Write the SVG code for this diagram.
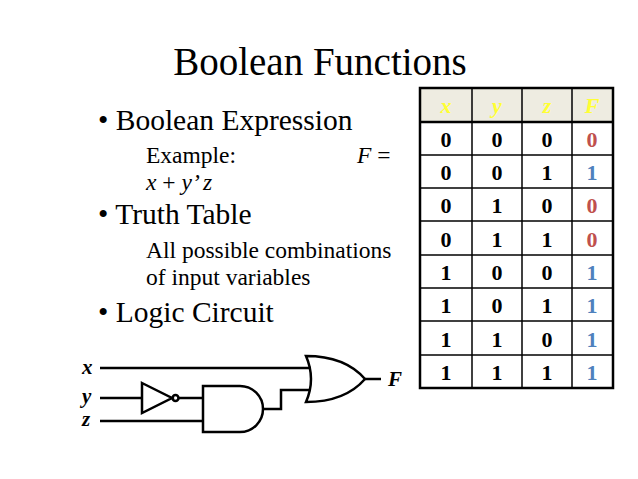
<svg xmlns="http://www.w3.org/2000/svg" width="638" height="479" viewBox="0 0 638 479">
<style>
.t{font-family:"Liberation Serif",serif;fill:#000}
.w{fill:none;stroke:#000;stroke-width:2.5}
.c{font-family:"Liberation Serif",serif;font-weight:bold;font-size:22px;text-anchor:middle}
.g{stroke:#000;stroke-width:1.5}
</style>
<rect width="638" height="479" fill="#fff"/>
<text class="t" x="320" y="75" font-size="39" text-anchor="middle">Boolean Functions</text>
<g id="text" class="t">
<text x="98" y="130" font-size="29.5">• Boolean Expression</text>
<text x="146" y="163" font-size="23.5">Example:</text>
<text x="357" y="163" font-size="23.5"><tspan font-style="italic">F</tspan> =</text>
<text x="146" y="190" font-size="23.5" font-style="italic">x <tspan font-style="normal">+</tspan> y’ z</text>
<text x="98" y="224" font-size="29.5">• Truth Table</text>
<text x="146" y="258" font-size="23.5">All possible combinations</text>
<text x="146" y="285" font-size="23.5">of input variables</text>
<text x="98" y="322" font-size="29.5">• Logic Circuit</text>
</g>
<g id="table">
<rect x="420" y="88" width="193" height="34" fill="#eeece1"/>
<g class="g">
<rect x="420" y="88" width="193" height="300" fill="none" stroke-width="2.5"/>
<line x1="472" y1="88" x2="472" y2="388"/><line x1="522" y1="88" x2="522" y2="388"/><line x1="572" y1="88" x2="572" y2="388"/>
<line x1="420" y1="122" x2="613" y2="122" stroke-width="2.5"/>
<line x1="420" y1="155" x2="613" y2="155"/><line x1="420" y1="188" x2="613" y2="188"/><line x1="420" y1="221" x2="613" y2="221"/><line x1="420" y1="255" x2="613" y2="255"/><line x1="420" y1="288" x2="613" y2="288"/><line x1="420" y1="321" x2="613" y2="321"/><line x1="420" y1="355" x2="613" y2="355"/>
</g>
<g class="c" font-style="italic" fill="#ffff33">
<text x="446" y="113">x</text><text x="497" y="113">y</text><text x="547" y="113">z</text><text x="592" y="113">F</text>
</g>
<g class="c">
<text x="446" y="147">0</text><text x="497" y="147">0</text><text x="547" y="147">0</text><text x="592" y="147" fill="#c0504d">0</text>
<text x="446" y="180">0</text><text x="497" y="180">0</text><text x="547" y="180">1</text><text x="592" y="180" fill="#4f81bd">1</text>
<text x="446" y="213">0</text><text x="497" y="213">1</text><text x="547" y="213">0</text><text x="592" y="213" fill="#c0504d">0</text>
<text x="446" y="247">0</text><text x="497" y="247">1</text><text x="547" y="247">1</text><text x="592" y="247" fill="#c0504d">0</text>
<text x="446" y="280">1</text><text x="497" y="280">0</text><text x="547" y="280">0</text><text x="592" y="280" fill="#4f81bd">1</text>
<text x="446" y="313">1</text><text x="497" y="313">0</text><text x="547" y="313">1</text><text x="592" y="313" fill="#4f81bd">1</text>
<text x="446" y="347">1</text><text x="497" y="347">1</text><text x="547" y="347">0</text><text x="592" y="347" fill="#4f81bd">1</text>
<text x="446" y="380">1</text><text x="497" y="380">1</text><text x="547" y="380">1</text><text x="592" y="380" fill="#4f81bd">1</text>
</g>
</g>
<g id="labels" class="t" font-weight="bold" font-style="italic" font-size="21">
<text x="82" y="374">x</text><text x="82" y="403">y</text><text x="82" y="426">z</text><text x="388" y="386">F</text>
</g>
<g id="or"><path class="w" d="M306,356 Q316,379 306,402 Q345,402 365,379 Q345,356 306,356 Z"/></g>
<g id="not"><path class="w" d="M142,383 L172,398 L142,413 Z"/><circle class="w" cx="175.5" cy="398" r="3" stroke-width="2"/></g>
<g id="and"><path class="w" d="M203,386 L240,386 A23,23 0 0 1 240,432 L203,432 Z"/></g>
<g id="connectors" class="w">
<path d="M100,368 H311"/><path d="M100,398 H142"/><path d="M179,398 H203"/><path d="M100,421 H203"/>
<path d="M263,409 H281 V390 H310"/><path d="M365,379 H381"/>
</g>
</svg>
